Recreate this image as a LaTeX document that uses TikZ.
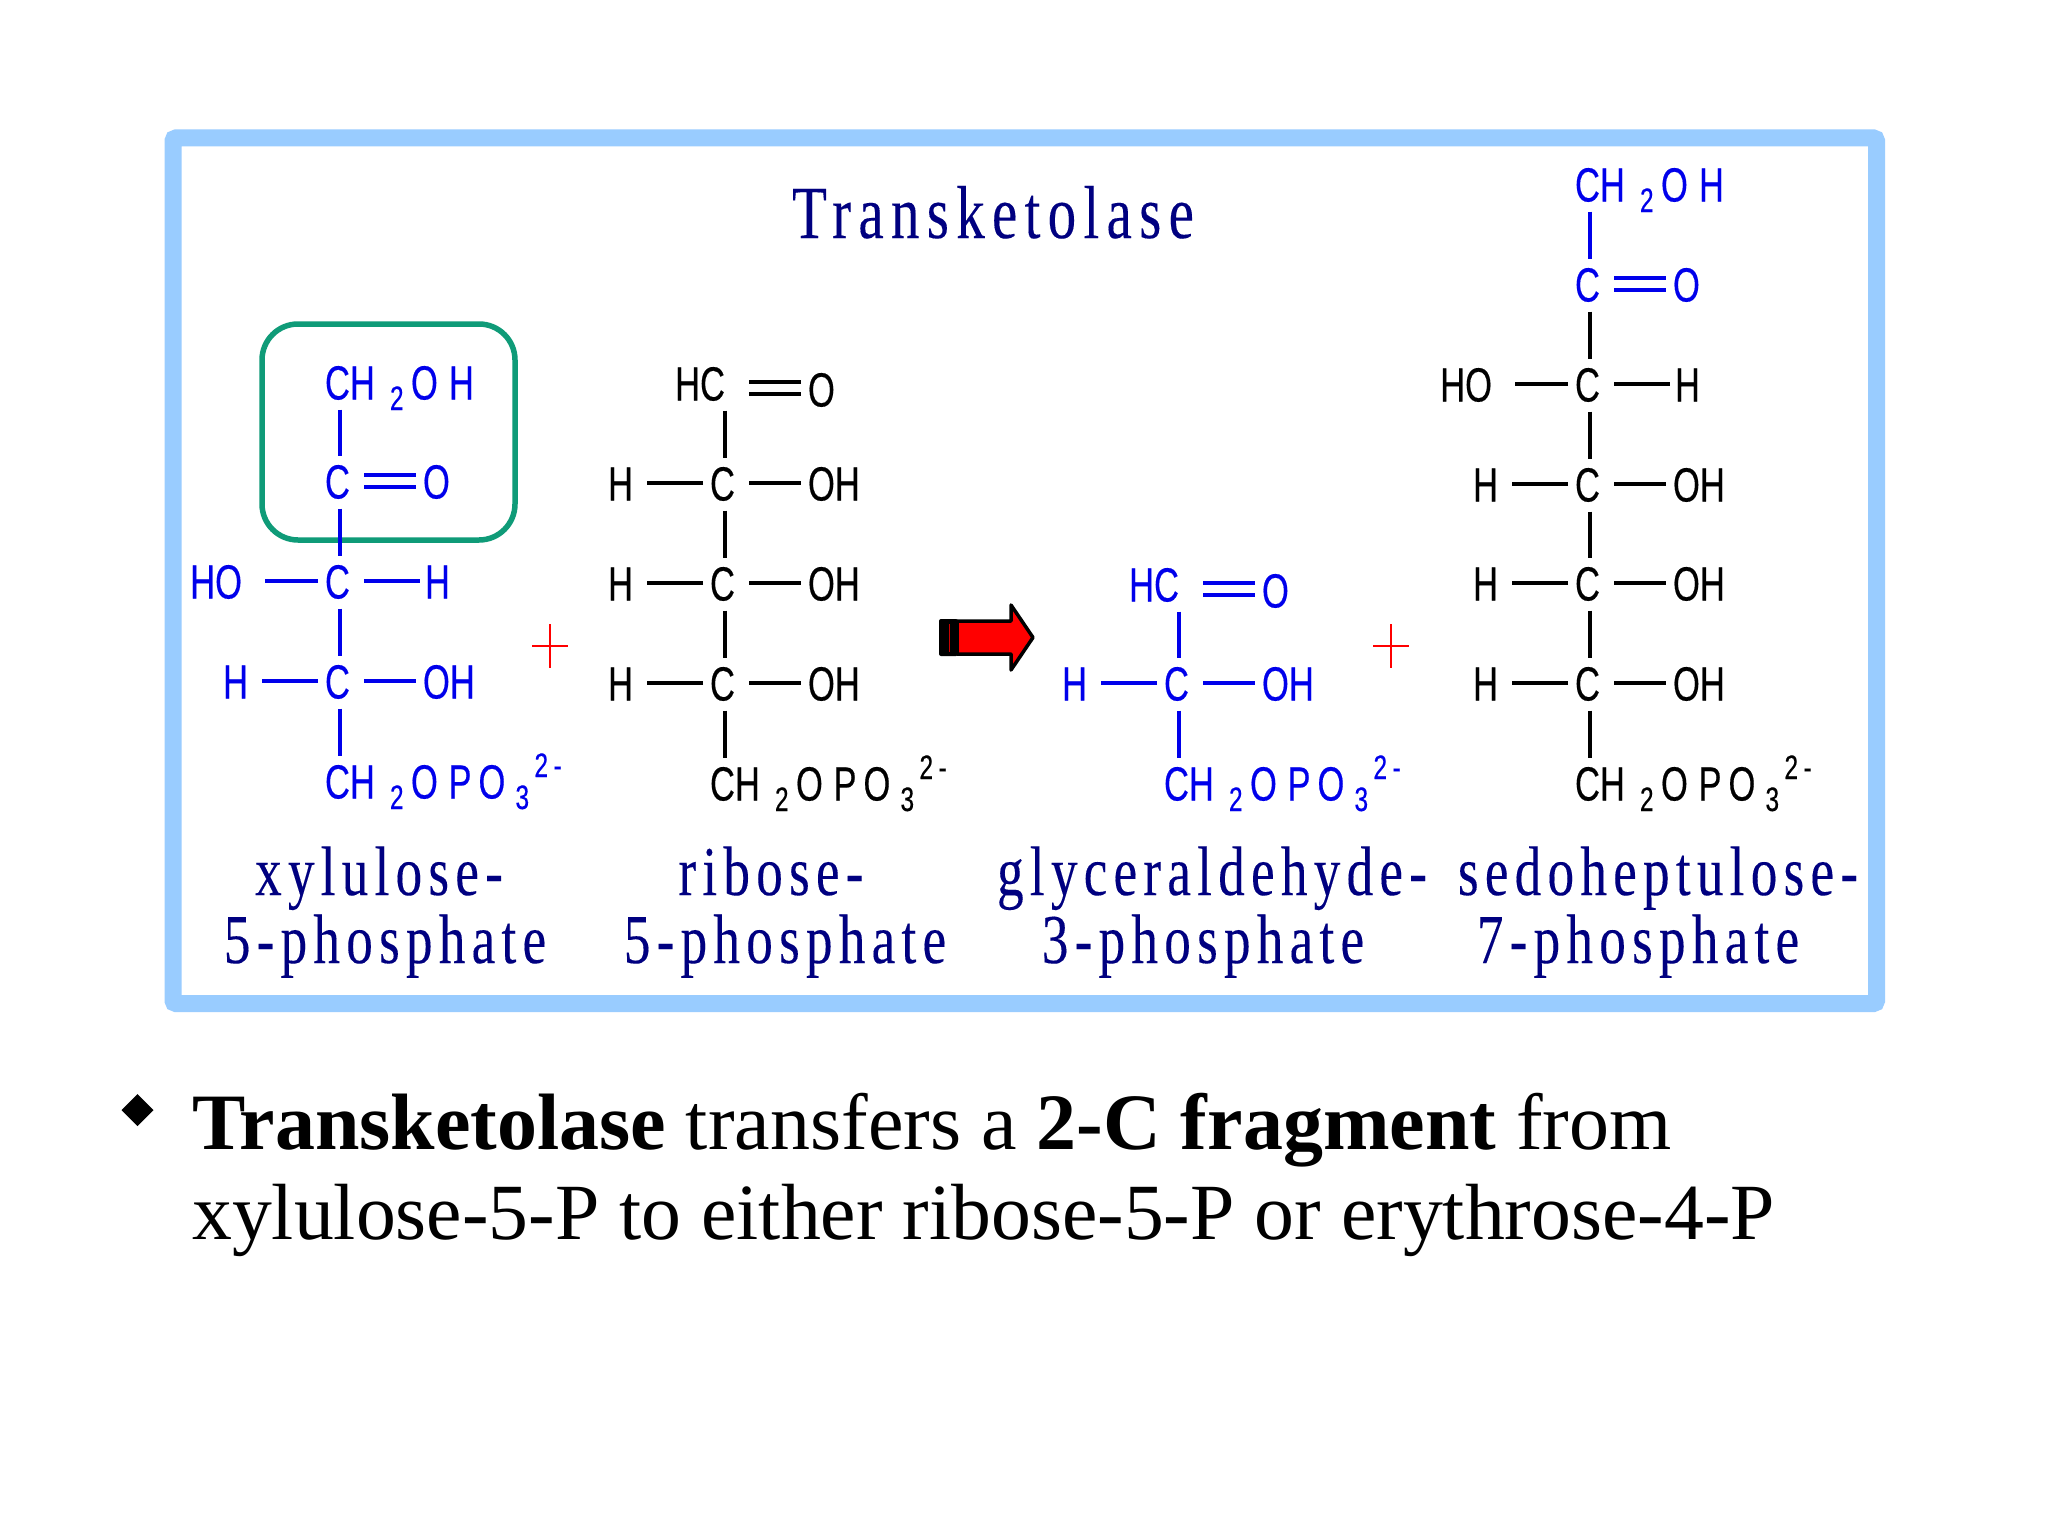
\documentclass[tikz,border=0pt]{standalone}
\usepackage{fontspec}
\setmainfont{Liberation Serif}
\newfontfamily\fmf[FakeStretch=0.72,FakeBold=0.3]{Liberation Sans}
\newfontfamily\lblf[FakeStretch=0.76,LetterSpace=8.9,FakeBold=0.15]{Liberation Serif}
\newfontfamily\ttlf[FakeStretch=0.76,LetterSpace=9.7,FakeBold=0.15]{Liberation Serif}
\definecolor{frameblue}{RGB}{153,204,255}
\definecolor{boxgreen}{RGB}{15,155,120}
\definecolor{molblue}{RGB}{0,0,235}
\definecolor{navytxt}{RGB}{0,0,128}
\tikzset{
  atom/.style={inner sep=0pt,outer sep=0pt,text height=35pt,text depth=0pt,font=\fmf\fontsize{48}{48}\selectfont},
  bond/.style={line width=3.3pt},
  label/.style={inner sep=0pt,anchor=base,text=navytxt,font=\lblf\fontsize{70}{70}\selectfont},
  bodytxt/.style={inner sep=0pt,anchor=base west,font=\fontsize{79.7}{80}\selectfont},
  plus/.style={red,line width=2.8pt},
}
\newcommand{\subz}[1]{\raisebox{-10.5pt}{\fontsize{34}{34}\selectfont #1}}
\newcommand{\supz}[1]{\raisebox{21.5pt}{\fontsize{34}{34}\selectfont #1}}
\newcommand{\cell}[2]{\makebox[#1pt][l]{#2}}
% vertical bond between two left-aligned atoms
\newcommand{\vbond}[2]{\draw[bond] ([xshift=15pt,yshift=-10pt]#1.south west) -- ([xshift=15pt,yshift=8pt]#2.north west);}
\newcommand{\stdrow}[3]{%
  \node[atom,anchor=west] (#1) at (#2-1,#3) {C};
  \node[atom,anchor=east] (#1-l) at (#2-78,#3) {H};
  \node[atom,anchor=west] (#1-r) at (#2+97,#3) {OH};
  \draw[bond] ([xshift=-7pt]#1.west) -- ([xshift=14pt]#1-l.east);
  \draw[bond] ([xshift=39pt]#1.west) -- ([xshift=-7pt]#1-r.west);}
\newcommand{\revrow}[3]{%
  \node[atom,anchor=west] (#1) at (#2-1,#3) {C};
  \node[atom,anchor=east] (#1-l) at (#2-84,#3) {HO};
  \node[atom,anchor=west] (#1-r) at (#2+99,#3) {H};
  \draw[bond] ([xshift=-7pt]#1.west) -- ([xshift=23pt]#1-l.east);
  \draw[bond] ([xshift=39pt]#1.west) -- ([xshift=-5pt]#1-r.west);}
\newcommand{\topalc}[3]{%
  \node[atom,anchor=west] (#1) at (#2-1,#3) {\cell{65}{CH}\cell{21}{\subz{2}}\cell{38}{O}H};}
\newcommand{\ketone}[3]{%
  \node[atom,anchor=west] (#1) at (#2-1,#3) {C};
  \node[atom,anchor=west] (#1-o) at (#2+97,#3) {O};
  \draw[bond] ([xshift=39pt,yshift=6pt]#1.west) -- ([xshift=-7pt,yshift=6pt]#1-o.west);
  \draw[bond] ([xshift=39pt,yshift=-6pt]#1.west) -- ([xshift=-7pt,yshift=-6pt]#1-o.west);}
\newcommand{\aldehyde}[3]{%
  \node[atom,anchor=east] (#1) at (#2+14,#3) {HC};
  \node[atom,anchor=west] (#1-o) at (#2+97,#3+6) {O};
  \draw[bond] ([xshift=24pt,yshift=1pt]#1.east) -- ([xshift=-7pt,yshift=7pt]#1-o.west);
  \draw[bond] ([xshift=24pt,yshift=-11pt]#1.east) -- ([xshift=-7pt,yshift=-5pt]#1-o.west);}
\newcommand{\hcbond}[2]{\draw[bond] ([yshift=-10pt]#1.south east) -- ([xshift=15pt,yshift=8pt]#2.north west);}
\newcommand{\phos}[3]{%
  \node[atom,anchor=west] (#1) at (#2-1,#3) {\cell{65}{CH}\cell{21}{\subz{2}}\cell{37.5}{O}\cell{30}{P}\cell{37}{O}\cell{19}{\subz{3}}\cell{19}{\supz{2}}\supz{-}};}
\begin{document}
\begin{tikzpicture}[x=1pt,y=-1pt]
\useasboundingbox (0,0) rectangle (2048,1536);
\fill[white] (0,0) rectangle (2048,1536);
% frame
\draw[frameblue,line width=17pt,rounded corners=3pt] (173,138) rectangle (1876.5,1003.5);
% title
\node[label,font=\ttlf\fontsize{75}{75}\selectfont] (title) at (993,238) {Transketolase};
% green box
\draw[boxgreen,line width=5.5pt,rounded corners=36pt] (262,324) rectangle (515,540);
% xylulose
\begin{scope}[color=molblue]
\topalc{xa}{326}{382}
\ketone{xb}{326}{481}
\revrow{xc}{326}{581}
\stdrow{xd}{326}{681}
\phos{xe}{326}{781}
\vbond{xa}{xb}\vbond{xb}{xc}\vbond{xc}{xd}\vbond{xd}{xe}
\end{scope}
% ribose
\aldehyde{ra}{711}{383}
\stdrow{rb}{711}{483}
\stdrow{rc}{711}{583}
\stdrow{rd}{711}{683}
\phos{re}{711}{783}
\hcbond{ra}{rb}\vbond{rb}{rc}\vbond{rc}{rd}\vbond{rd}{re}
% glyceraldehyde
\begin{scope}[color=molblue]
\aldehyde{ga}{1165}{584}
\stdrow{gb}{1165}{683}
\phos{gc}{1165}{783}
\hcbond{ga}{gb}\vbond{gb}{gc}
\end{scope}
% sedoheptulose
\begin{scope}[color=molblue]
\topalc{sa}{1576}{184}
\ketone{sb}{1576}{284}
\vbond{sa}{sb}
\end{scope}
\revrow{sc}{1576}{384}
\stdrow{sd}{1576}{484}
\stdrow{se}{1576}{583}
\stdrow{sf}{1576}{683}
\phos{sg}{1576}{783}
\vbond{sb}{sc}\vbond{sc}{sd}\vbond{sd}{se}\vbond{se}{sf}\vbond{sf}{sg}
% plus signs
\coordinate (p1) at (550,646);
\coordinate (p2) at (1391,646);
\draw[plus] ([xshift=-18pt]p1) -- ([xshift=18pt]p1);
\draw[plus] ([yshift=22pt]p1) -- ([yshift=-22pt]p1);
\draw[plus] ([xshift=-18pt]p2) -- ([xshift=18pt]p2);
\draw[plus] ([yshift=22pt]p2) -- ([yshift=-22pt]p2);
% arrow
\fill[black,rounded corners=2pt] (939,619) rectangle (958,656);
\draw[red!80!black,line width=1pt] (949,624) -- (949,652);
\draw[black,fill=red,line width=3.5pt,line join=round] (957,621) -- (1011,621) -- (1011,605) -- (1033,637.5) -- (1011,670) -- (1011,654) -- (957,654) -- cycle;
% labels
\node[label] (l1a) at (379,895) {xylulose-};
\node[label] (l1b) at (385,963) {5-phosphate};
\node[label] (l2a) at (771,895) {ribose-};
\node[label] (l2b) at (785,963) {5-phosphate};
\node[label] (l3a) at (1212,895) {glyceraldehyde-};
\node[label] (l3b) at (1203,963) {3-phosphate};
\node[label] (l4a) at (1658,895) {sedoheptulose-};
\node[label] (l4b) at (1638,963) {7-phosphate};
% bullet text
\fill[black] (137.5,1094) -- (153.5,1110) -- (137.5,1126) -- (121.5,1110) -- cycle;
\node[bodytxt,font=\fontsize{79.95}{80}\selectfont] (b1) at (192,1149) {\textbf{Transketolase} transfers a \textbf{2-C fragment} from};
\node[bodytxt] (b2) at (192,1239) {xylulose-5-P to either ribose-5-P or erythrose-4-P};
\end{tikzpicture}
\end{document}
